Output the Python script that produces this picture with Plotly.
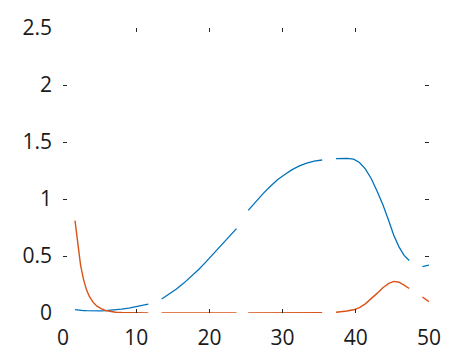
import plotly.graph_objects as go

# segments separated by None (gaps in the lines)
x_vals = [1.64, 2.0, 2.4, 2.8, 3.2, 3.6, 4.1, 4.6, 5.2, 5.8, 6.5, 7.2, 8.0, 9.0, 10.0, 11.0, 11.65, None,
          13.48, 14.5, 15.5, 16.5, 17.5, 18.5, 19.5, 20.5, 21.5, 22.5, 23.7, None,
          25.3, 26.3, 27.3, 28.3, 29.3, 30.3, 31.3, 32.3, 33.3, 34.3, 35.4, None,
          37.3, 38.0, 38.8, 39.7, 40.5, 41.3, 42.1, 42.9, 43.7, 44.5, 45.2, 45.9, 46.6, 47.3, None,
          49.1, 50.0]

blue = [0.030, 0.026, 0.023, 0.021, 0.020, 0.019, 0.018, 0.018, 0.019, 0.021, 0.024, 0.028, 0.034, 0.043, 0.054, 0.066, 0.077, None,
        0.123, 0.165, 0.210, 0.262, 0.318, 0.380, 0.446, 0.515, 0.585, 0.655, 0.740, None,
        0.900, 0.975, 1.045, 1.110, 1.168, 1.215, 1.258, 1.290, 1.315, 1.332, 1.342, None,
        1.355, 1.358, 1.357, 1.350, 1.320, 1.265, 1.180, 1.070, 0.950, 0.810, 0.680, 0.580, 0.505, 0.460, None,
        0.406, 0.420]

orange = [0.810, 0.600, 0.420, 0.295, 0.205, 0.145, 0.095, 0.062, 0.038, 0.022, 0.012, 0.007, 0.004, 0.002, 0.001, 0.000, 0.000, None,
          0.0, 0.0, 0.0, 0.0, 0.0, 0.0, 0.0, 0.0, 0.0, 0.0, 0.0, None,
          0.0, 0.0, 0.0, 0.0, 0.0, 0.0, 0.0, 0.0, 0.0, 0.001, 0.002, None,
          0.006, 0.010, 0.017, 0.028, 0.048, 0.080, 0.122, 0.172, 0.222, 0.260, 0.277, 0.270, 0.245, 0.215, None,
          0.140, 0.100]

x_ticks = [0, 10, 20, 30, 40, 50]
y_ticks = [0, 0.5, 1, 1.5, 2, 2.5]
y_tick_text = ["0", "0.5", "1", "1.5", "2", "2.5"]

fig = go.Figure()
fig.add_trace(go.Scatter(x=x_vals, y=blue, mode="lines", line=dict(color="#0072BD", width=1.3),
                         connectgaps=False, showlegend=False))
fig.add_trace(go.Scatter(x=x_vals, y=orange, mode="lines", line=dict(color="#D95319", width=1.4),
                         connectgaps=False, showlegend=False))

axis_font = dict(family="Open Sans", size=21, color="#1a1a1a")
fig.update_layout(
    width=474, height=353,
    margin=dict(l=63, r=45, t=28, b=40, autoexpand=False),
    paper_bgcolor="white", plot_bgcolor="white",
    font=axis_font,
    xaxis=dict(range=[0, 50], tickvals=x_ticks, ticktext=[str(v) for v in x_ticks],
               ticks="inside", ticklen=4, tickwidth=1, tickcolor="#262626",
               showline=False, mirror="ticks", showgrid=False, zeroline=False,
               tickfont=axis_font, ticklabelstandoff=10, automargin=False),
    yaxis=dict(range=[0, 2.5], tickvals=y_ticks, ticktext=y_tick_text,
               ticks="inside", ticklen=4, tickwidth=1, tickcolor="#262626",
               showline=False, mirror="ticks", showgrid=False, zeroline=False,
               tickfont=axis_font, ticklabelstandoff=10, automargin=False),
)

fig.write_html("out.html")
